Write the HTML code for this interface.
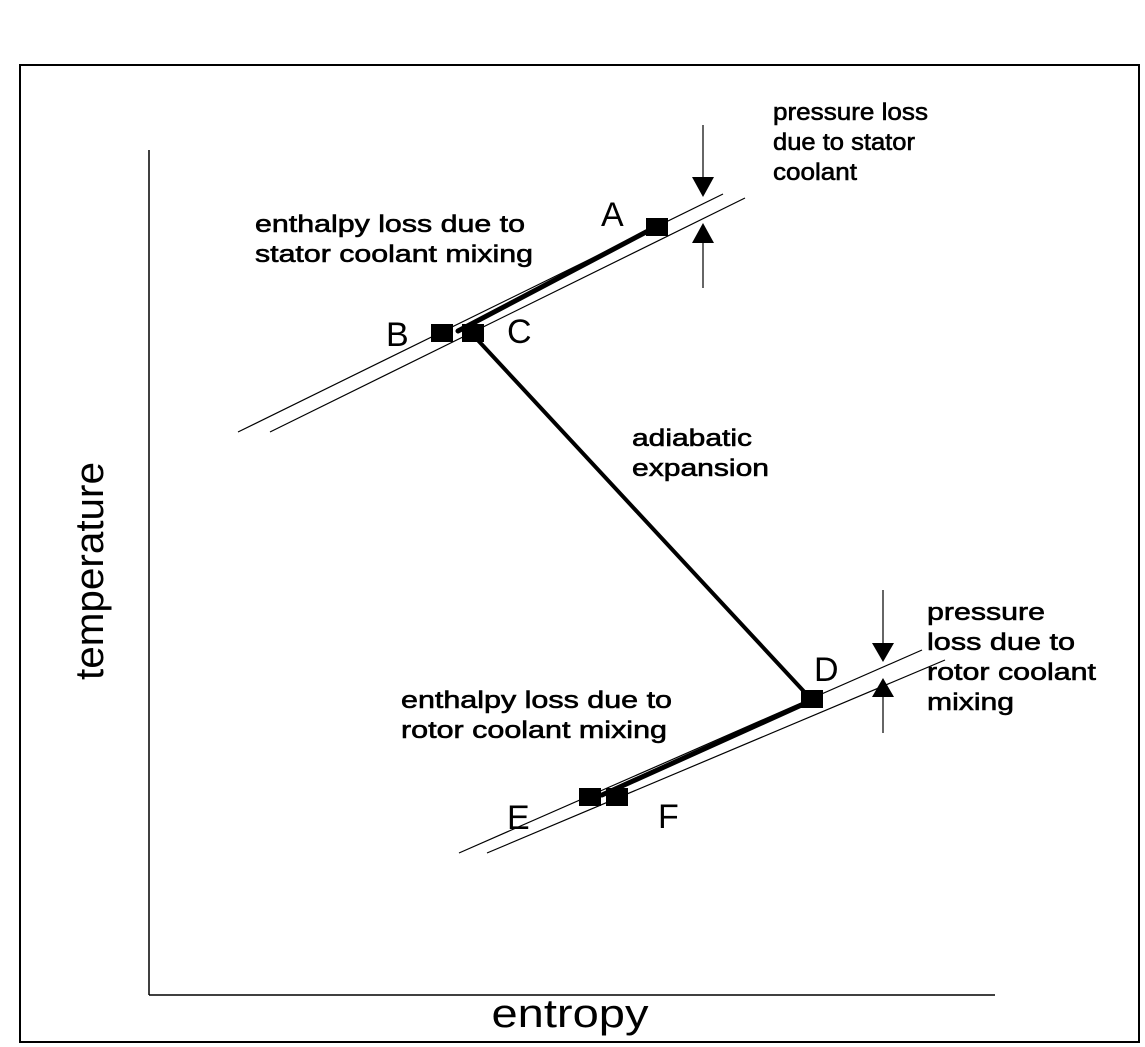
<!DOCTYPE html>
<html><head><style>html,body{margin:0;padding:0;background:#fff}svg{display:block}text{font-family:"Liberation Sans",Arial,sans-serif;fill:#000}</style></head>
<body>
<svg width="1145" height="1047" viewBox="0 0 1145 1047">
<rect x="20" y="65" width="1119" height="977" fill="none" stroke="#000" stroke-width="2"/>
<line x1="149" y1="150" x2="149" y2="995" stroke="#000" stroke-width="1.5"/>
<line x1="149" y1="995" x2="995" y2="995" stroke="#000" stroke-width="1.5"/>
<g stroke="#000" stroke-width="1.2">
<line x1="238" y1="432" x2="723" y2="194"/>
<line x1="270" y1="432" x2="745" y2="198"/>
<line x1="459" y1="853" x2="922" y2="650"/>
<line x1="487" y1="853" x2="945" y2="660"/>
<line x1="703" y1="125" x2="703" y2="180"/>
<line x1="703" y1="240" x2="703" y2="288"/>
<line x1="883" y1="590" x2="883" y2="645"/>
<line x1="883" y1="695" x2="883" y2="733"/>
</g>
<g fill="#000">
<polygon points="692,177 714,177 703,197"/>
<polygon points="692,243 714,243 703,223"/>
<polygon points="872,643 894,643 883,662"/>
<polygon points="872,697 894,697 883,678"/>
</g>
<g stroke="#000" stroke-linecap="round">
<line x1="648" y1="231" x2="458" y2="331" stroke-width="5"/>
<line x1="474" y1="336" x2="810" y2="698" stroke-width="4"/>
<line x1="806" y1="703" x2="602" y2="795" stroke-width="5"/>
</g>
<g fill="#000">
<rect x="646" y="218" width="22" height="18"/>
<rect x="431" y="324" width="22" height="18"/>
<rect x="462" y="324" width="22" height="18"/>
<rect x="801" y="690" width="22" height="18"/>
<rect x="579" y="788" width="22" height="18"/>
<rect x="606" y="788" width="22" height="18"/>
</g>
<g font-size="34">
<text x="601" y="226">A</text>
<text x="386" y="346">B</text>
<text x="507" y="343">C</text>
<text x="814" y="681">D</text>
<text x="507" y="829">E</text>
<text x="658" y="828">F</text>
</g>
<g font-size="24" stroke="#000" stroke-width="0.6">
<text x="773" y="120" textLength="155" lengthAdjust="spacingAndGlyphs">pressure loss</text>
<text x="773" y="150" textLength="142" lengthAdjust="spacingAndGlyphs">due to stator</text>
<text x="773" y="180" textLength="84" lengthAdjust="spacingAndGlyphs">coolant</text>
<text x="255" y="232" textLength="270" lengthAdjust="spacingAndGlyphs">enthalpy loss due to</text>
<text x="255" y="262" textLength="278" lengthAdjust="spacingAndGlyphs">stator coolant mixing</text>
<text x="632" y="446" textLength="120" lengthAdjust="spacingAndGlyphs">adiabatic</text>
<text x="632" y="476" textLength="137" lengthAdjust="spacingAndGlyphs">expansion</text>
<text x="927" y="620" textLength="118" lengthAdjust="spacingAndGlyphs">pressure</text>
<text x="927" y="650" textLength="148" lengthAdjust="spacingAndGlyphs">loss due to</text>
<text x="927" y="680" textLength="169" lengthAdjust="spacingAndGlyphs">rotor coolant</text>
<text x="927" y="710" textLength="87" lengthAdjust="spacingAndGlyphs">mixing</text>
<text x="401" y="708" textLength="271" lengthAdjust="spacingAndGlyphs">enthalpy loss due to</text>
<text x="401" y="738" textLength="266" lengthAdjust="spacingAndGlyphs">rotor coolant mixing</text>
</g>
<text x="570" y="1027" font-size="40" text-anchor="middle" textLength="157" lengthAdjust="spacingAndGlyphs">entropy</text>
<text transform="translate(103,571) rotate(-90)" font-size="40" text-anchor="middle" textLength="218" lengthAdjust="spacingAndGlyphs">temperature</text>
</svg>
</body></html>
